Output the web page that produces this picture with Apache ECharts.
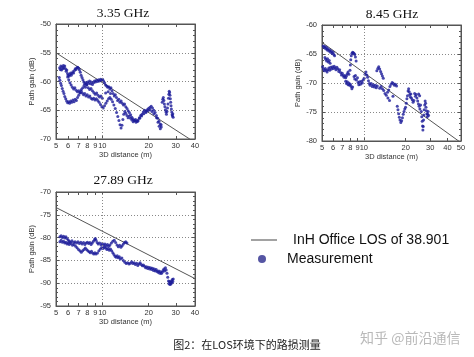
<!DOCTYPE html>
<html><head><meta charset="utf-8">
<script src="https://cdn.jsdelivr.net/npm/echarts@6/dist/echarts.min.js"></script>
<style>html,body{margin:0;padding:0;background:#fff}#c{width:474px;height:357px}</style>
</head><body><div id="c"></div>
<script>
// ---- data ----
const titles = ['3.35 GHz', '8.45 GHz', '27.89 GHz'];
const xTicks1 = [5, 6, 7, 8, 9, 10, 20, 30, 40];
const xTicks2 = [5, 6, 7, 8, 9, 10, 20, 30, 40, 50];
const xTicks3 = [5, 6, 7, 8, 9, 10, 20, 30, 40];
const yRange1 = [-70, -50];
const yRange2 = [-80, -60];
const yRange3 = [-95, -70];
const model335 = [[5, -55.0], [40, -70.6]];
const model845 = [[5, -63.0], [50, -80.3]];
const model2789 = [[5, -73.4], [40, -89.0]];
const meas335 = [
[5.28,-57.6],[5.33,-57.9],[5.38,-57.3],[5.43,-58.0],[5.48,-57.5],[5.53,-57.8],[5.58,-57.2],[5.64,-57.6],[5.7,-57.3],[5.76,-57.8],[5.82,-58.2],[5.88,-58.0],[5.94,-58.6],[6.0,-58.9],[6.07,-59.1],[6.14,-58.8],[6.21,-58.5],[6.28,-58.9],[6.35,-58.6],[6.43,-58.3],[6.51,-58.5],[6.59,-58.1],[6.67,-57.8],[6.75,-57.9],[6.83,-57.6],[6.92,-57.5],[7.01,-57.7],[7.1,-58.0],[7.19,-58.4],[7.28,-58.9],[7.38,-59.3],[7.48,-59.7],[7.58,-60.1],[7.69,-60.4],[7.8,-60.2],[7.91,-60.5],[8.02,-60.1],[8.14,-60.3],[8.26,-59.9],[8.38,-60.4],[8.5,-60.1],[8.63,-60.5],[8.76,-60.2],[8.89,-59.9],[9.02,-60.1],[9.16,-59.8],[9.3,-60.0],[9.44,-59.7],[9.58,-59.9],[9.73,-59.6],[9.88,-59.8],[10.03,-59.6],[10.18,-59.9],[10.34,-60.2],[10.5,-60.6],[10.67,-60.8],[10.84,-61.0],[11.01,-60.9],[11.19,-61.3],[11.37,-61.1],[11.56,-61.6],[11.75,-62.1],[11.95,-62.5],[12.15,-62.3],[12.36,-62.8],[12.57,-63.3],[12.79,-63.1],[13.01,-63.6],[13.24,-63.4],[13.47,-63.8],[13.71,-64.1],[13.95,-63.9],[14.2,-64.4],[14.46,-64.7],[14.72,-65.1],[14.99,-65.4],[15.27,-65.8],[15.55,-66.2],[15.84,-66.5],[16.14,-66.8],[16.45,-66.6],[16.76,-66.9],[17.08,-66.7],[17.41,-66.3],[17.75,-65.9],[18.1,-65.7],[18.45,-65.3],[18.81,-65.0],[19.18,-65.2],[19.56,-64.9],[19.95,-64.7],[20.35,-64.5],[20.76,-64.3],[21.18,-64.6],[21.6,-65.0],[22.02,-65.4],[22.45,-65.9],[22.89,-66.4],[23.33,-66.9],[23.76,-67.4],[24.15,-67.9],
[5.25,-59.3],[5.3,-59.8],[5.36,-60.3],[5.42,-60.7],[5.49,-61.2],[5.56,-61.7],[5.63,-62.1],[5.7,-62.6],[5.78,-63.0],[5.86,-63.4],[5.95,-63.7],[6.04,-63.5],[6.13,-63.8],[6.23,-63.4],[6.33,-63.6],[6.44,-63.2],[6.55,-63.5],[6.66,-63.1],[6.78,-63.3],[6.9,-62.8],[7.02,-62.4],[7.15,-62.0],[7.28,-61.7],[7.41,-62.0],[7.55,-62.3],[7.69,-62.1],[7.83,-62.5],[7.98,-62.3],[8.13,-62.7],[8.29,-62.5],[8.45,-62.9],[8.62,-63.1],[8.79,-62.9],[8.97,-63.2],[9.15,-63.0],[9.34,-63.3],[9.53,-63.6],[9.73,-64.0],[9.93,-64.4],[10.13,-64.6],[10.33,-64.2],[10.54,-63.8],[10.75,-63.4],[10.97,-63.0],[11.19,-62.8],[11.42,-63.1],[11.65,-63.5],[11.89,-64.1],[12.13,-64.7],[12.37,-65.4],[12.6,-66.1],[12.82,-66.8],[13.03,-67.5],[13.23,-68.1],[13.42,-67.6],[13.6,-66.6],[13.78,-65.7],[13.98,-65.2],[14.2,-65.5],[14.45,-65.9],[14.7,-66.3],[14.97,-66.0],[15.25,-66.4],[15.55,-66.7],[15.86,-67.0],[16.2,-66.8],[16.55,-67.1],[17.0,-66.9],[17.5,-66.4],[18.0,-66.0],[18.6,-65.6],[19.2,-65.4],[19.8,-65.1],[20.4,-64.9],[21.0,-65.2],[21.6,-65.6],
[5.95,-59.2],[6.05,-59.7],[6.16,-60.2],[6.27,-60.6],[6.39,-61.0],[6.51,-61.3],[6.63,-61.1],[6.76,-61.5],[6.89,-61.8],[7.03,-61.6],[7.17,-61.9],[7.31,-61.4],[7.46,-61.1],[7.61,-60.7],[7.77,-61.0],[7.93,-60.6],[8.1,-61.1],[8.27,-61.4],[8.44,-61.2],[8.62,-61.6],[8.8,-61.9],[8.99,-62.2],[9.18,-62.0],[9.38,-62.4],[9.58,-62.7],[9.79,-62.5],[10.0,-62.9],[10.5,-62.0],[10.9,-61.8],[11.3,-62.1],
[22.5,-66.3],[23.0,-67.1],[23.4,-67.8],[23.8,-68.2],[24.1,-67.5],
[24.5,-63.6],[24.7,-63.1],[24.9,-62.8],[25.1,-63.3],[25.3,-63.9],[25.5,-64.4],[25.7,-64.9],[25.9,-65.3],[26.1,-65.7],[26.3,-65.2],[26.5,-64.6],[26.7,-63.9],[26.9,-62.9],[27.05,-62.2],[27.2,-61.7],[27.35,-61.9],[27.5,-62.4],[27.65,-63.0],[27.8,-63.6],[27.95,-64.2],[28.1,-64.8],[28.25,-65.3],[28.4,-65.8],[28.55,-66.0],[28.7,-65.6],[28.85,-66.2]
];
const meas845 = [
[5.1,-63.6],[5.17,-63.9],[5.24,-63.7],[5.31,-64.1],[5.38,-63.9],[5.45,-64.3],[5.52,-64.1],[5.6,-64.5],[5.68,-64.3],[5.76,-64.7],[5.84,-64.5],[5.92,-64.9],[6.0,-64.7],[6.08,-65.1],[6.16,-65.3],
[5.25,-65.6],[5.32,-65.9],[5.4,-66.2],[5.48,-65.8],[5.56,-66.4],[5.64,-66.1],[5.72,-66.6],
[5.05,-67.2],[5.12,-67.6],[5.2,-67.9],[5.28,-67.5],[5.36,-67.8],[5.44,-68.1],[5.52,-67.7],[5.6,-67.4],[5.68,-67.8],[5.76,-67.3],[5.85,-67.6],[5.94,-67.2],[6.03,-67.5],[6.12,-67.1],[6.21,-67.4],[6.3,-67.7],[6.4,-67.3],[6.5,-67.6],[6.6,-68.0],[6.7,-67.7],[6.8,-68.2],[6.9,-68.6],[7.0,-68.3],[7.1,-68.7],[7.2,-69.0],[7.3,-68.7],[7.4,-69.1],[7.5,-68.8],[7.6,-68.4],[7.7,-68.1],[7.8,-68.5],
[7.4,-69.7],[7.5,-70.1],[7.6,-69.8],[7.7,-70.3],[7.8,-70.0],[7.9,-70.4],[8.0,-70.2],[8.1,-70.6],[8.2,-71.0],[8.3,-70.7],
[7.95,-67.8],[8.0,-66.9],[8.05,-66.0],[8.12,-65.3],[8.2,-64.9],[8.3,-64.7],[8.4,-64.8],[8.5,-64.9],[8.6,-65.1],[8.7,-65.5],[8.8,-66.2],
[8.5,-68.9],[8.6,-69.3],[8.7,-68.7],[8.85,-69.5],[9.0,-69.1],[9.1,-69.9],[9.2,-70.3],[9.3,-69.8],[9.45,-70.2],[9.6,-69.7],[9.75,-70.0],[9.9,-69.5],[10.05,-69.2],
[10.2,-68.5],[10.35,-68.1],[10.5,-68.6],[10.65,-69.0],[10.8,-69.6],[10.95,-70.1],[11.1,-70.4],[11.3,-70.1],[11.5,-70.6],[11.7,-70.3],[11.9,-70.7],[12.1,-70.4],[12.3,-70.8],[12.5,-70.5],
[12.4,-67.9],[12.6,-67.5],[12.8,-67.2],[13.0,-67.6],[13.2,-68.0],[13.4,-68.4],[13.6,-68.8],[13.8,-69.2],
[13.0,-70.9],[13.3,-70.6],[13.6,-71.0],[13.9,-71.3],[14.2,-71.8],[14.5,-72.1],[14.8,-71.6],[15.1,-71.2],[15.4,-70.6],[15.7,-70.2],[16.0,-69.9],[16.3,-70.1],[16.6,-70.4],[16.9,-70.2],[17.2,-70.5],
[14.9,-72.6],[15.3,-73.0],[16.2,-72.3],
[17.4,-74.0],[17.6,-74.6],[17.8,-75.3],[18.0,-75.9],[18.2,-76.4],[18.45,-76.8],[18.7,-76.5],[18.95,-76.0],[19.2,-75.4],[19.45,-74.9],[19.7,-74.5],[19.95,-74.2],[20.2,-73.5],
[20.4,-72.7],[20.6,-72.2],[20.8,-71.4],[21.0,-71.0],[21.2,-71.5],[21.4,-72.0],[21.6,-72.4],[21.8,-71.9],[22.0,-72.6],[22.3,-72.9],[22.6,-73.3],[22.9,-73.0],
[23.2,-71.8],[23.5,-72.3],[23.8,-72.0],[24.1,-72.6],[24.4,-73.1],[24.7,-73.6],[25.0,-74.0],[25.3,-74.5],[25.6,-73.8],[25.9,-74.9],[26.1,-75.8],[26.3,-76.6],[26.45,-77.4],[26.6,-78.1],[26.75,-77.5],[26.9,-76.4],[27.05,-75.5],[27.2,-74.6],[27.4,-73.8],[27.6,-73.1],[27.8,-73.5],[28.0,-74.2],[28.2,-74.8],[28.4,-75.3],[28.6,-75.8],[28.8,-75.4],[29.0,-74.9],[29.2,-75.6],
[24.8,-71.9],[25.2,-72.2]
];
const meas2789 = [
[5.3,-79.8],[5.4,-79.6],[5.5,-80.0],[5.6,-79.7],[5.7,-80.1],[5.8,-79.8],[5.9,-80.2],[6.0,-80.5],[6.1,-80.8],[6.2,-81.0],[6.35,-80.7],[6.5,-81.1],[6.65,-80.9],[6.8,-81.2],[6.95,-80.9],[7.1,-81.3],[7.25,-81.0],[7.4,-81.4],[7.55,-81.1],[7.7,-81.5],[7.85,-81.2],[8.0,-81.0],[8.15,-81.3],[8.3,-81.1],[8.45,-81.5],[8.6,-81.2],[8.75,-80.8],[8.9,-80.4],[9.0,-80.2],[9.1,-80.6],[9.25,-81.1],[9.4,-81.4],[9.6,-81.2],[9.8,-81.6],[10.0,-81.3],[10.2,-81.7],[10.4,-81.4],[10.6,-81.8],[10.8,-81.5],[11.0,-81.9],[11.2,-81.6],[11.45,-81.2],[11.7,-80.8],[11.95,-80.6],[12.2,-81.1],[12.45,-81.6],[12.7,-82.0],[12.95,-81.7],[13.2,-82.1],[13.45,-81.8],[13.7,-81.4],[13.95,-81.1],[14.2,-80.9],[14.45,-81.2],
[5.3,-80.9],[5.4,-80.6],[5.5,-81.0],[5.6,-80.8],[5.7,-81.2],[5.8,-81.0],[5.9,-81.4],[6.0,-81.2],[6.1,-81.5],[6.25,-81.3],[6.4,-81.7],[6.55,-81.5],[6.7,-81.9],[6.85,-82.2],[7.0,-82.6],[7.15,-82.9],[7.3,-83.2],[7.45,-82.9],[7.6,-82.6],[7.75,-82.3],[7.9,-82.6],[8.05,-82.9],[8.2,-83.1],[8.35,-83.3],[8.5,-83.0],[8.65,-83.4],[8.8,-83.6],[8.95,-83.3],[9.1,-83.6],[9.3,-83.4],[9.5,-82.9],[9.7,-82.5],[9.9,-82.2],[10.1,-82.4],[10.3,-82.1],[10.5,-82.3],[10.7,-82.6],[10.9,-82.4],[11.1,-82.8],[11.3,-82.5],[11.5,-82.9],[11.7,-83.3],[11.9,-83.7],[12.1,-84.1],[12.3,-84.3],[12.5,-84.0],[12.7,-84.4],[12.9,-84.2],[13.1,-84.7],[13.4,-84.5],[13.7,-85.0],[14.0,-85.4],[14.3,-85.7],[14.6,-85.5],[14.9,-85.8],[15.2,-85.6],[15.5,-85.3],[15.8,-85.7],[16.1,-85.5],[16.4,-85.9],[16.7,-85.6],[17.0,-86.1],[17.3,-85.8],[17.6,-85.5],[17.9,-85.9],[18.2,-86.2],[18.5,-86.0],[18.8,-86.3],[19.1,-86.6],[19.4,-86.4],[19.7,-86.8],[20.0,-86.5],[20.3,-86.9],[20.6,-86.6],[20.9,-87.0],[21.2,-86.7],[21.5,-87.2],[21.8,-86.9],[22.1,-87.3],[22.4,-87.0],[22.7,-87.4],[23.0,-87.6],[23.3,-87.3],[23.6,-87.8],[23.9,-87.5],[24.2,-87.9],[24.5,-87.6],[24.8,-87.2],[25.1,-86.9],[25.4,-87.3],[25.7,-86.6],[26.0,-87.1],[26.3,-87.8],[26.6,-88.7],[26.9,-89.5],[27.1,-90.1],[27.3,-89.6],[27.5,-90.3],[27.7,-89.8],[27.9,-90.2],[28.1,-89.5],[28.3,-89.9],[28.5,-89.2],[28.7,-89.6],[28.9,-89.1]
];
const legendNames = ['InH Office LOS of 38.901', 'Measurement'];
const caption = '图2：在LOS环境下的路损测量';
const watermark = '知乎 @前沿通信';

// ---- layout / styling ----
const FONT = '"Liberation Sans", Arial, sans-serif';
const AX = '#555';
const grids = [
  {left: 56, top: 24, width: 139, height: 115},
  {left: 322, top: 25, width: 139, height: 116},
  {left: 56, top: 192, width: 139, height: 114}
];
const xTickSets = [xTicks1, xTicks2, xTicks3];
const yRanges = [yRange1, yRange2, yRange3];
const models = [model335, model845, model2789];
const meas = [meas335, meas845, meas2789];

const xAxes = [], yAxes = [], series = [];
grids.forEach((g, i) => {
  const ticks = xTickSets[i];
  const xmin = ticks[0], xmax = ticks[ticks.length - 1];
  const baseX = {
    type: 'log', logBase: 10, gridIndex: i, min: xmin, max: xmax,
    axisLine: {show: true, lineStyle: {color: AX, width: 1}},
    axisTick: {show: true, inside: true, length: 3, customValues: ticks, lineStyle: {color: AX}},
    splitLine: {show: false}, minorTick: {show: false}
  };
  xAxes.push(Object.assign({}, baseX, {
    position: 'bottom',
    axisLabel: {show: true, customValues: ticks, fontSize: 7.5, color: '#333', margin: 3, fontFamily: FONT},
    name: '3D distance (m)', nameLocation: 'middle', nameGap: 12,
    nameTextStyle: {fontSize: 7.5, color: '#333', fontFamily: FONT}
  }));
  xAxes.push(Object.assign({}, baseX, {position: 'top', axisLabel: {show: false}}));
  const yr = yRanges[i];
  const baseY = {
    type: 'value', gridIndex: i, min: yr[0], max: yr[1], interval: 5,
    axisLine: {show: true, lineStyle: {color: AX, width: 1}},
    axisTick: {show: true, inside: true, length: 3, lineStyle: {color: AX}},
    minorTick: {show: true, splitNumber: 5, length: 2, lineStyle: {color: AX}}
  };
  yAxes.push(Object.assign({}, baseY, {
    position: 'left',
    axisLabel: {show: true, fontSize: 7.5, color: '#333', margin: 5, fontFamily: FONT},
    splitLine: {show: true, showMinLine: false, showMaxLine: false, lineStyle: {color: '#888', type: [1, 2], width: 1}},
    name: 'Path gain (dB)', nameLocation: 'middle', nameGap: 20,
    nameTextStyle: {fontSize: 7.5, color: '#333', fontFamily: FONT}
  }));
  yAxes.push(Object.assign({}, baseY, {position: 'right', axisLabel: {show: false}, splitLine: {show: false}}));
  series.push({
    type: 'line', name: legendNames[0], xAxisIndex: 2 * i, yAxisIndex: 2 * i,
    data: models[i], symbol: 'none', clip: true, silent: true,
    lineStyle: {color: '#555', width: 1}, itemStyle: {color: '#555'}, z: 3
  });
  series.push({
    type: 'scatter', name: legendNames[1], xAxisIndex: 2 * i, yAxisIndex: 2 * i,
    data: meas[i], symbol: 'circle', symbolSize: 3, silent: true,
    itemStyle: {color: '#1a1a98'}, z: 4,
    markLine: {silent: true, symbol: 'none', label: {show: false},
      lineStyle: {color: '#888', type: [1, 2], width: 1}, data: [{xAxis: 10}]}
  });
});

const titlePos = [[123, 13], [392, 14], [123, 180]];
const graphics = titles.map((t, i) => ({
  type: 'text', x: titlePos[i][0], y: titlePos[i][1],
  style: {text: t, fontSize: 13.5, fontFamily: '"Liberation Serif", "Times New Roman", serif', fill: '#111', align: 'center', verticalAlign: 'middle'}
}));
graphics.push({type: 'text', x: 247, y: 345, style: {text: caption, fontSize: 11, fontFamily: '"Noto Sans CJK SC", sans-serif', fill: '#222', align: 'center', verticalAlign: 'middle'}});
graphics.push({type: 'text', x: 360, y: 338, style: {text: watermark, fontSize: 14, fontFamily: '"Noto Sans CJK SC", sans-serif', fill: '#b9b9b9', align: 'left', verticalAlign: 'middle'}});

const chart = echarts.init(document.getElementById('c'), null, {renderer: 'canvas'});
chart.setOption({
  backgroundColor: '#fff',
  animation: false,
  grid: grids.map(g => Object.assign({show: true, borderColor: AX, borderWidth: 1, backgroundColor: 'transparent', containLabel: false}, g)),
  xAxis: xAxes,
  yAxis: yAxes,
  legend: [
    {data: [legendNames[0]], left: 251, top: 233, padding: 0, orient: 'vertical', itemWidth: 26, itemHeight: 1, icon: 'rect', selectedMode: false,
      itemStyle: {color: '#444'},
      textStyle: {fontSize: 14, color: '#111', fontFamily: FONT, padding: [0, 0, 0, 11]}},
    {data: [legendNames[1]], left: 258, top: 252, padding: 0, orient: 'vertical', itemWidth: 8, itemHeight: 8, icon: 'circle', selectedMode: false,
      itemStyle: {color: '#2a2a8c'},
      textStyle: {fontSize: 14, color: '#111', fontFamily: FONT, padding: [0, 0, 0, 16]}}
  ],
  graphic: graphics,
  series: series
});
</script></body></html>
